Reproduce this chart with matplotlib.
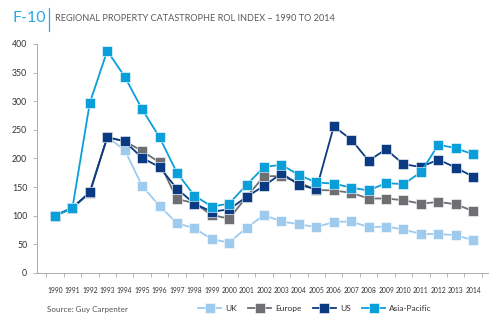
import matplotlib
matplotlib.use("Agg")
import matplotlib.pyplot as plt
from matplotlib.lines import Line2D
import numpy as np

years = list(range(1990, 2015))

uk = [100, 113, 140, 237, 215, 152, 117, 87, 78, 59, 53, 79, 101, 90, 85,
      80, 89, 90, 80, 81, 76, 68, 68, 66, 57]
europe = [100, 113, 140, 237, 230, 213, 193, 129, 122, 101, 95, 133, 169, 169, 158,
          145, 144, 140, 130, 130, 127, 121, 124, 120, 108]
us = [100, 114, 141, 237, 230, 201, 185, 147, 121, 107, 111, 133, 152, 174, 154,
      146, 256, 233, 196, 216, 190, 185, 198, 184, 168]
asia = [100, 113, 297, 388, 343, 286, 237, 175, 135, 116, 121, 154, 185, 189, 171,
        158, 156, 149, 144, 157, 155, 176, 224, 218, 207]

series = [("UK", uk, "#9ecaee"), ("Europe", europe, "#6e6f72"),
          ("US", us, "#0a3a82"), ("Asia-Pacific", asia, "#0a9fd9")]

plt.rcParams["font.family"] = ["Lato", "DejaVu Sans"]

fig = plt.figure(figsize=(5.0, 3.23), dpi=100)
ax = fig.add_axes([0.074, 0.155, 0.902, 0.709])

for name, vals, col in series:
    ax.plot(years, vals, color=col, lw=1.3, marker="s", ms=6.5,
            mfc=col, mec="white", mew=0.4, zorder=3, label=name)

ax.set_ylim(0, 400)
ax.set_yticks(np.arange(0, 401, 50))
ax.set_xlim(1988.97, 2014.85)
ax.set_xticks(years)
ax.set_xticks(np.arange(1989.5, 2015, 1.0), minor=True)
ax.tick_params(axis="x", which="major", length=0, labelsize=4.9,
               colors="#333333", pad=10)
ax.tick_params(axis="x", which="minor", length=3, width=0.6, color="#aaaaaa")
ax.tick_params(axis="y", length=3, width=0.6, color="#aaaaaa",
               labelsize=6.3, labelcolor="#333333", pad=4)
for s in ("top", "right"):
    ax.spines[s].set_visible(False)
for s in ("left", "bottom"):
    ax.spines[s].set_color("#aaaaaa")
    ax.spines[s].set_linewidth(0.7)

# Figure number, divider bar and heading
fig.text(0.024, 0.945, "F-10", color="#2ea8de", fontsize=11.5, va="center")
fig.add_artist(Line2D([0.098, 0.098], [0.905, 0.975], color="#2ea8de",
                      lw=0.9, transform=fig.transFigure))
fig.text(0.11, 0.943, "REGIONAL PROPERTY CATASTROPHE ROL INDEX \u2013 1990 TO 2014",
         color="#5a5a5a", fontsize=6.6, va="center")

fig.text(0.094, 0.043, "Source: Guy Carpenter", color="#555555",
         fontsize=5.8, va="center")

handles = [Line2D([0], [0], color=c, lw=1.3, marker="s", ms=6.5, mec="white",
                  mew=0.4) for _, _, c in series]
leg = fig.legend(handles, [n for n, _, _ in series], loc="center",
                 bbox_to_anchor=(0.63, 0.045), ncol=4, frameon=False,
                 fontsize=6.0, handlelength=2.8, columnspacing=1.3,
                 handletextpad=0.5)
for t in leg.get_texts():
    t.set_color("#333333")

fig.savefig("out.png", dpi=100)
